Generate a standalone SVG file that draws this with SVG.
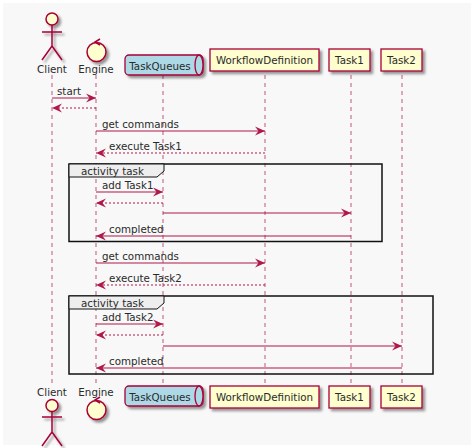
<svg xmlns="http://www.w3.org/2000/svg" width="474" height="448" viewBox="0 0 474 448">
<defs>
<filter id="sh" x="-20%" y="-20%" width="150%" height="150%"><feDropShadow dx="2.5" dy="2.5" stdDeviation="1.3" flood-color="#000" flood-opacity="0.4"/></filter>
<marker id="ah" viewBox="0 0 11 10" refX="10" refY="5" markerWidth="11" markerHeight="10" markerUnits="userSpaceOnUse" orient="auto"><path d="M0 0.500L10 5L0 9.500L3.500 5Z" fill="#A80036"/></marker>
</defs>
<style>
text{font-family:"DejaVu Sans","Liberation Sans",sans-serif;font-size:10.3px;fill:#2a2a2a}
.box{fill:#FEFECE;stroke:#A80036;stroke-width:1.300;filter:url(#sh)}
.ll{stroke:#A80036;stroke-width:1;stroke-dasharray:4 4;fill:none;opacity:.65}
.m{stroke:#A80036;stroke-width:1;fill:none;marker-end:url(#ah);opacity:.9}
.d{stroke-dasharray:2 2}
.fr{fill:none;stroke:#111;stroke-width:1.500}
.tab{fill:#EEEEEE;stroke:#111;stroke-width:1}
.ic{fill:#FEFECE;stroke:#A80036;stroke-width:1.500}
.st{fill:none;stroke:#A80036;stroke-width:1.500}
.c{text-anchor:middle}
</style>
<rect x="0" y="0" width="474" height="448" fill="#fff"/>
<rect x="3" y="3" width="468" height="442" fill="#f8f8f8"/>
<g id="connectors">
<path class="ll" d="M52 75V385"/><path class="ll" d="M96 75V385"/><path class="ll" d="M163 75V385"/><path class="ll" d="M265 75V385"/><path class="ll" d="M351 75V385"/><path class="ll" d="M402 75V385"/>
<path class="m" d="M52 98H96"/><text x="57" y="95">start</text>
<path class="m d" d="M96 108H52"/>
<path class="m" d="M96 131H265"/><text x="102" y="128">get commands</text>
<path class="m d" d="M265 153H96"/><text x="109" y="150">execute Task1</text>
<path class="m" d="M96 192H163"/><text x="102" y="189">add Task1</text>
<path class="m d" d="M163 203H96"/>
<path class="m" d="M163 213H351"/>
<path class="m" d="M351 236H96"/><text x="109" y="233">completed</text>
<path class="m" d="M96 263H265"/><text x="102" y="260">get commands</text>
<path class="m d" d="M265 285H96"/><text x="109" y="282">execute Task2</text>
<path class="m" d="M96 324H163"/><text x="102" y="321">add Task2</text>
<path class="m d" d="M163 335H96"/>
<path class="m" d="M163 346H402"/>
<path class="m" d="M402 368H96"/><text x="109" y="365">completed</text>
</g>
<g id="frame1"><rect class="fr" x="69" y="164" width="313" height="77.500"/><path class="tab" d="M69 164H164V171L157 177H69Z"/><text x="81" y="174.500">activity task</text></g>
<g id="frame2"><rect class="fr" x="69" y="296" width="364" height="78"/><path class="tab" d="M69 296H164V303L157 309H69Z"/><text x="81" y="306.500">activity task</text></g>
<g id="client-top"><g style="filter:url(#sh)"><circle class="ic" cx="52" cy="19" r="6"/><path class="st" d="M52 25V46M42 32H62M52 46L42 60M52 46L62 60"/></g><text class="c" x="52" y="73">Client</text></g>
<g id="engine-top"><circle class="ic" cx="96.500" cy="52" r="9.500" style="filter:url(#sh)"/><path class="st" d="M100 39L95 42L100 45"/><text class="c" x="96" y="73">Engine</text></g>
<g id="taskqueues-top"><rect class="box" x="125" y="55" width="78" height="20" rx="4" style="fill:#ADD8E6"/><ellipse cx="199" cy="65" rx="4" ry="10" fill="#ADD8E6" stroke="#A80036" stroke-width="1.300"/><text class="c" x="160" y="69.500">TaskQueues</text></g>
<g id="wf-top"><rect class="box" x="210" y="49" width="109" height="22"/><text class="c" x="264.500" y="64">WorkflowDefinition</text></g>
<g id="task1-top"><rect class="box" x="329" y="49" width="41" height="22"/><text class="c" x="349.500" y="64">Task1</text></g>
<g id="task2-top"><rect class="box" x="381" y="49" width="41" height="22"/><text class="c" x="401.500" y="64">Task2</text></g>
<g id="client-bottom"><text class="c" x="52" y="396">Client</text><g style="filter:url(#sh)"><circle class="ic" cx="52" cy="405.500" r="6"/><path class="st" d="M52 411.500V432M42 417H62M52 432L42 446M52 432L62 446"/></g></g>
<g id="engine-bottom"><text class="c" x="96" y="396">Engine</text><circle class="ic" cx="96.500" cy="410" r="9.500" style="filter:url(#sh)"/><path class="st" d="M100 397L95 400L100 403"/></g>
<g id="taskqueues-bottom"><rect class="box" x="125" y="386" width="78" height="20" rx="4" style="fill:#ADD8E6"/><ellipse cx="199" cy="396" rx="4" ry="10" fill="#ADD8E6" stroke="#A80036" stroke-width="1.300"/><text class="c" x="160" y="400.500">TaskQueues</text></g>
<g id="wf-bottom"><rect class="box" x="210" y="386" width="109" height="22"/><text class="c" x="264.500" y="401">WorkflowDefinition</text></g>
<g id="task1-bottom"><rect class="box" x="329" y="386" width="41" height="22"/><text class="c" x="349.500" y="401">Task1</text></g>
<g id="task2-bottom"><rect class="box" x="381" y="386" width="41" height="22"/><text class="c" x="401.500" y="401">Task2</text></g>
</svg>
